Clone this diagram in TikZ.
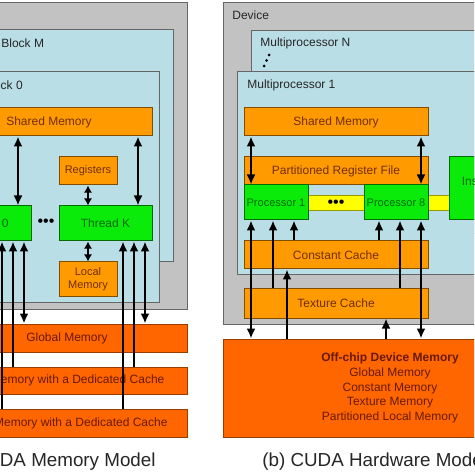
\documentclass[tikz,border=0pt]{standalone}
\usepackage{fontspec}
\setmainfont{Liberation Sans}
\usetikzlibrary{arrows.meta}

\definecolor{devgray}{RGB}{194,194,194}
\definecolor{blkblue}{RGB}{185,222,230}
\definecolor{memorange}{RGB}{255,155,0}
\definecolor{dramorange}{RGB}{255,102,0}
\definecolor{coregreen}{RGB}{10,235,10}
\definecolor{busyellow}{RGB}{255,255,0}
\definecolor{ontxt}{RGB}{115,45,0}
\definecolor{offtxt}{RGB}{105,25,0}
\definecolor{grtxt}{RGB}{0,105,0}

\tikzset{
  sz/.style 2 args={minimum width=#1*0.5pt,minimum height=#2*0.5pt},
  frame/.style={draw=black!60,line width=0.5pt},
  box/.style={line width=0.5pt,inner sep=0pt,font=\fontsize{6}{7.4}\selectfont},
  small/.style={font=\fontsize{5.5}{6.6}\selectfont},
  onchip/.style={box,fill=memorange,draw=black!50!memorange,text=ontxt},
  offchip/.style={box,fill=dramorange,draw=black!40!dramorange,text=offtxt},
  core/.style={box,fill=coregreen,draw=black!55!coregreen,text=grtxt},
  bus/.style={box,fill=busyellow,draw=black!40!busyellow,font=\fontsize{8}{9}\selectfont},
  lbl/.style={anchor=west,inner sep=0pt,font=\fontsize{6}{7}\selectfont,text=black!85},
  caption/.style={inner sep=0pt,font=\fontsize{9.4}{11}\selectfont,text=black!85},
  link/.style={line width=1.2pt,black},
  shortlink/.style={link,>={Latex[length=3.6pt,width=4.2pt]}}
}

\begin{document}
\begin{tikzpicture}[x=0.5pt,y=-0.5pt,>={Latex[length=5pt,width=4.5pt]}]
  \clip (0,0) rectangle (474,474);
  \fill[white] (0,0) rectangle (474,474);

  % (a) memory model
  \filldraw[frame,fill=devgray] (-60,3) rectangle (187,310);
  \filldraw[frame,fill=blkblue] (-9,30) rectangle (173,262);
  \node[lbl] (blkM) at (1,43) {Block M};
  \filldraw[frame,fill=blkblue] (-27,72) rectangle (159,303);
  \node[lbl] (blk0) at (-17,85) {Block 0};

  \node[onchip,sz={206}{28}] (shmL) at (49,122) {Shared Memory};
  \node[onchip,small,sz={58}{28}] (regs) at (88,171) {Registers};
  \node[core,sz={93}{35}] (thr0) at (-15.5,223.5) {Thread 0};
  \node[core,sz={93}{35}] (thrK) at (105.5,223.5) {Thread K};
  \node[inner sep=0pt,font=\fontsize{8}{9}\selectfont] (tdots) at (46,223) {•••};
  \node[onchip,small,sz={58}{35},align=center] (lmem) at (88,279.5) {Local\\Memory};

  \node[offchip,sz={240}{28}] (gmem) at (67,338) {Global Memory};
  \node[offchip,sz={270}{27}] (cmem) at (52,380.5) {Constant Memory with a Dedicated Cache};
  \node[offchip,sz={255}{28}] (tmem) at (59.5,423) {Texture Memory with a Dedicated Cache};
  \node[caption,anchor=base east] (capa) at (156,466) {(a) CUDA Memory Model};

  % (b) hardware model
  \filldraw[frame,fill=devgray] (223,3) rectangle (520,324);
  \node[lbl] (dev) at (232,15) {Device};
  \filldraw[frame,fill=blkblue] (251,31) rectangle (520,234);
  \node[lbl] (mpN) at (260,43) {Multiprocessor N};
  \fill (269,55) circle (1.5) (266.5,60.5) circle (1.5) (264,66) circle (1.5);
  \filldraw[frame,fill=blkblue] (237,72) rectangle (520,275);
  \node[lbl] (mp1) at (247,85) {Multiprocessor 1};

  \node[onchip,sz={184}{28}] (shmR) at (336,122) {Shared Memory};
  \node[onchip,sz={184}{28}] (prf) at (336,171) {Partitioned Register File};
  \node[bus,sz={56}{15}] (bus1) at (336,203.5) {•••};
  \node[bus,sz={21}{15}] (bus2) at (438.5,203.5) {};
  \node[core,small,sz={64}{35}] (proc1) at (276,202.5) {Processor 1};
  \node[core,small,sz={64}{35}] (proc8) at (396,202.5) {Processor 8};
  \node[core,sz={81}{63},align=center] (iu) at (489.5,188.5) {Instruction\\Unit};
  \node[onchip,sz={184}{28}] (ccache) at (336,255) {Constant Cache};
  \node[onchip,sz={184}{29}] (tcache) at (336,303.5) {Texture Cache};

  \node[offchip,sz={334}{98},align=center] (dmem) at (390,388)
    {\textbf{Off-chip Device Memory}\\Global Memory\\Constant Memory\\Texture Memory\\Partitioned Local Memory};
  \node[caption,anchor=base west] (capb) at (262,466) {(b) CUDA Hardware Model};

  % arrows, memory model
  \draw[link,<->] (shmL.south -| 18,0) -- (thr0.north -| 18,0);
  \draw[link,<->] (shmL.south -| 138,0) -- (thrK.north -| 138,0);
  \draw[shortlink,<->] (regs.south) -- (regs.south |- thrK.north);
  \draw[shortlink,<->] (lmem.north) -- (lmem.north |- thrK.south);
  \draw[link,<->] (thr0.south -| 24,0) -- (gmem.north -| 24,0);
  \draw[link,->] (cmem.north -| 13,0) -- (thr0.south -| 13,0);
  \draw[link,->] (tmem.north -| 2,0) -- (thr0.south -| 2,0);
  \draw[link,<->] (thrK.south -| 145,0) -- (gmem.north -| 145,0);
  \draw[link,->] (cmem.north -| 134,0) -- (thrK.south -| 134,0);
  \draw[link,->] (tmem.north -| 123,0) -- (thrK.south -| 123,0);

  % arrows, hardware model
  \draw[link,<->] (shmR.south -| 251,0) -- (proc1.north -| 251,0);
  \draw[link,<->] (shmR.south -| 421,0) -- (proc8.north -| 421,0);
  \draw[link,<->] (proc1.south -| 251,0) -- (dmem.north -| 251,0);
  \draw[link,<->] (proc8.south -| 421,0) -- (dmem.north -| 421,0);
  \draw[link,->] (tcache.north -| 273,0) -- (proc1.south -| 273,0);
  \draw[link,->] (ccache.north -| 294,0) -- (proc1.south -| 294,0);
  \draw[link,->] (ccache.north -| 379,0) -- (proc8.south -| 379,0);
  \draw[link,->] (tcache.north -| 400,0) -- (proc8.south -| 400,0);
  \draw[link,->] (dmem.north -| 287,0) -- (ccache.south -| 287,0);
  \draw[link,->] (dmem.north -| 386,0) -- (tcache.south -| 386,0);
\end{tikzpicture}
\end{document}
